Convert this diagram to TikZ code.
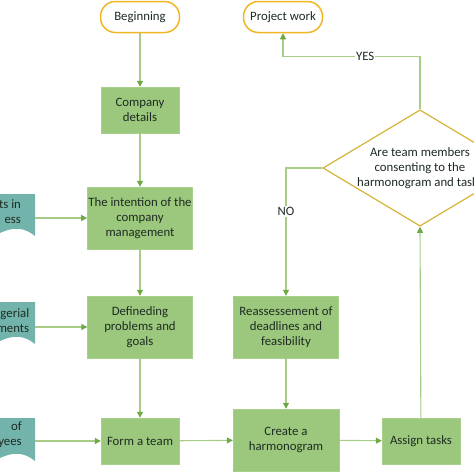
\documentclass[tikz,border=0pt]{standalone}
\usepackage{fontspec}
\setmainfont{Carlito}
\usetikzlibrary{shapes.geometric,arrows.meta}
\definecolor{boxgreen}{HTML}{9CC87E}
\definecolor{boxedge}{HTML}{A8D08D}
\definecolor{linkgreen}{HTML}{A6CC86}
\definecolor{tipgreen}{HTML}{6DAA45}
\definecolor{termorange}{HTML}{F1B624}
\definecolor{diamyellow}{HTML}{D6B435}
\definecolor{docteal}{HTML}{72B4AC}
\definecolor{txt}{HTML}{1E2B22}

\begin{document}
\begin{tikzpicture}[x=1pt,y=-1pt,
  every node/.style={font=\fontsize{12.8}{15}\selectfont, text=txt},
  box/.style={draw=boxedge, fill=boxgreen, align=center, inner sep=1pt},
  smallbox/.style={box, minimum width=78pt, minimum height=46pt},
  bigbox/.style={box, minimum width=105pt, minimum height=62pt},
  term/.style={draw=termorange, line width=1.5pt, fill=white, rounded corners=15pt,
    minimum width=79pt, minimum height=31pt},
  decision/.style={diamond, draw=diamyellow, line width=1.2pt, fill=white, aspect=1.67,
    inner sep=0pt, minimum width=194pt, minimum height=116pt, align=center},
  lbl/.style={fill=white, inner sep=1pt},
  link/.style={draw=linkgreen, line width=1.1pt, -{Triangle[length=6pt,width=6pt,color=tipgreen]}}]
\useasboundingbox (0,0) rectangle (474,474);
\clip (0,0) rectangle (474,474);
% Documents on the left
\fill[docteal] (-40,194) -- (35,194) -- (35,236) .. controls (25,228) and (15,226) .. (0,233) -- (-40,236) -- cycle;
\fill[docteal] (-40,302) -- (35,302) -- (35,344) .. controls (25,336) and (15,334) .. (0,341) -- (-40,344) -- cycle;
\fill[docteal] (-40,418) -- (35,418) -- (35,461) .. controls (25,453) and (15,451) .. (0,458) -- (-40,461) -- cycle;
\node[align=right] (doca) at (10,212) {ts in\\ess};
\node[align=right] (docb) at (13,321) {gerial\\ments};
\node[align=right] (docc) at (10,435) {of\\yees};
\coordinate (outa) at (35,218);
\coordinate (outb) at (35,327);
\coordinate (outc) at (35,441);
% Left column
\node[term] (begin) at (140,17) {Beginning};
\node[smallbox] (details) at (140,110) {Company\\details};
\node[bigbox] (intent) at (140,218) {The intention of the\\company\\management};
\node[bigbox] (goals) at (140,327) {Defineding\\problems and\\goals};
\node[smallbox] (team) at (140,441) {Form a team};
% Right side
\node[term] (project) at (283,17) {Project work};
\node[decision] (agree) at (420,168) {Are team members\\consenting to the\\harmonogram and tasks};
\node[bigbox] (reassess) at (286,327) {Reassessement of\\deadlines and\\feasibility};
\node[bigbox, minimum width=106pt] (harmo) at (286,440) {Create a\\harmonogram};
\node[smallbox] (tasks) at (421,441) {Assign tasks};
% Connectors
\draw[link] (begin) -- (details);
\draw[link] (details) -- (intent);
\draw[link] (intent) -- (goals);
\draw[link] (goals) -- (team);
\draw[link] (team) -- (harmo);
\draw[link] (harmo) -- (tasks);
\draw[link] (tasks) -- (agree.south);
\draw[link] (reassess) -- (harmo);
\draw[link] (agree.north) -- ++(0,-53) -| node[lbl, pos=0.2] {YES} (project.south);
\draw[link] (agree.west) -| node[lbl, pos=0.67] {NO} (reassess.north);
\draw[link] (outa) -- (intent);
\draw[link] (outb) -- (goals);
\draw[link] (outc) -- (team);
\end{tikzpicture}
\end{document}
